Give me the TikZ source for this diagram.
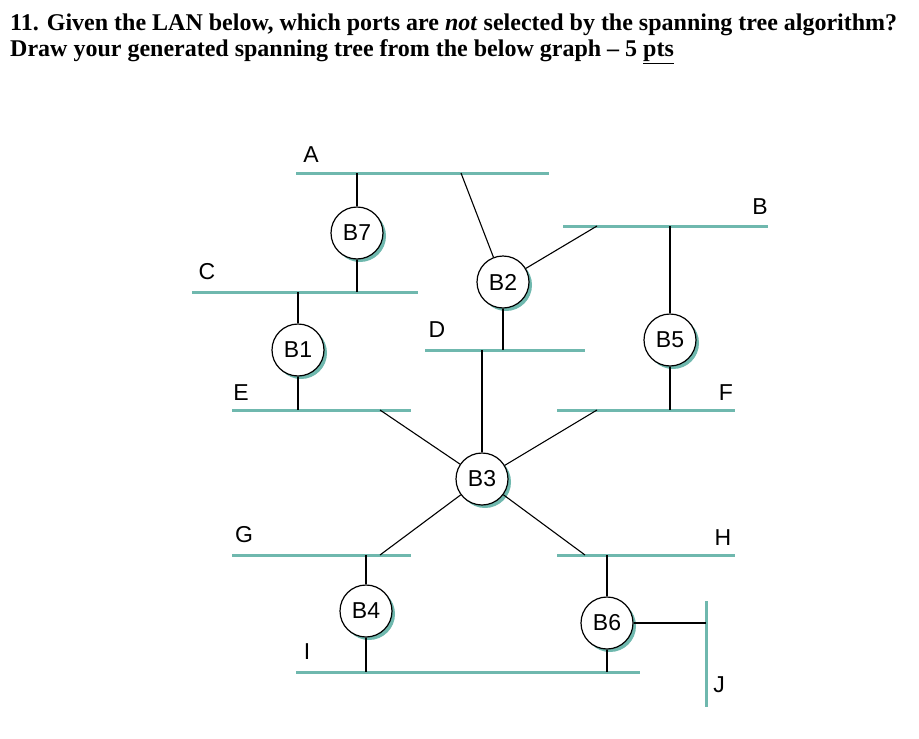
\documentclass[tikz,border=0pt]{standalone}
\usepackage{fontspec}
\setmainfont{Liberation Serif}
\newfontfamily\arialf{Liberation Sans}
\definecolor{lan}{HTML}{6FB8AE}
\begin{document}
\begin{tikzpicture}[x=1pt,y=-1pt,
  lanline/.style={draw=lan,line width=3pt},
  conn/.style={draw=black,line width=1.1pt},
  br/.style={circle,draw,line width=1.2pt,fill=white,minimum size=52pt,inner sep=0pt,font=\arialf\fontsize{23}{23}\selectfont},
  lbl/.style={font=\arialf\fontsize{23}{23}\selectfont},
  shad/.style={circle,fill=lan,minimum size=52pt,inner sep=0pt},
  ttl/.style={anchor=west,font=\fontsize{24}{27}\selectfont\bfseries,inner sep=0pt}]
\useasboundingbox (0,0) rectangle (919,739);
\node[ttl] (t1) at (10,25) {11. Given the LAN below, which ports are \textit{not} selected by the spanning tree algorithm?};
\node[ttl] (t2) at (10,52) {Draw your generated spanning tree from the below graph -- 5 \underline{pts}};
% LAN segments
\coordinate (A1) at (296,173); \coordinate (A2) at (549,173);
\coordinate (C1) at (192,292); \coordinate (C2) at (418,292);
\coordinate (B1l) at (563,226); \coordinate (B2l) at (768,226);
\coordinate (D1) at (425,350); \coordinate (D2) at (585,350);
\coordinate (E1) at (232,410); \coordinate (E2) at (411,410);
\coordinate (F1) at (557,410); \coordinate (F2) at (735,410);
\coordinate (G1) at (232,555); \coordinate (G2) at (411,555);
\coordinate (H1) at (557,555); \coordinate (H2) at (735,555);
\coordinate (I1) at (296,672); \coordinate (I2) at (640,672);
\coordinate (J1) at (706,601); \coordinate (J2) at (706,707);
\foreach \a/\b in {A1/A2,C1/C2,B1l/B2l,D1/D2,E1/E2,F1/F2,G1/G2,H1/H2,I1/I2,J1/J2}
  \draw[lanline] (\a) -- (\b);
\node[lbl] (la) at (311,155) {A};
\node[lbl] (lb) at (760,207) {B};
\node[lbl] (lc) at (207,272) {C};
\node[lbl] (ld) at (437,330) {D};
\node[lbl] (le) at (241,393) {E};
\node[lbl] (lf) at (726,393) {F};
\node[lbl] (lg) at (244,535) {G};
\node[lbl] (lh) at (723,538) {H};
\node[lbl] (li) at (307,652) {I};
\node[lbl] (lj) at (719,685) {J};
% attachment points
\coordinate (a7) at (357,173); \coordinate (c7) at (357,292);
\coordinate (a2) at (461,173); \coordinate (b2) at (597,226); \coordinate (d2) at (503,350);
\coordinate (b5) at (670,226); \coordinate (f5) at (670,410);
\coordinate (c1) at (298,292); \coordinate (e1) at (298,410);
\coordinate (d3) at (482,350); \coordinate (e3) at (380,410); \coordinate (f3) at (597,410);
\coordinate (g3) at (380,555); \coordinate (h3) at (585,555);
\coordinate (g4) at (366,555); \coordinate (i4) at (366,672);
\coordinate (h6) at (607,555); \coordinate (i6) at (607,672); \coordinate (j6) at (706,623);
% shadows
\foreach \p in {(360,236),(506,285),(673,343),(301,353),(485,482),(369,614),(610,626)}
  \node[shad] at \p {};
\node[br] (B7) at (357,233) {B7};
\node[br] (B2) at (503,282) {B2};
\node[br] (B5) at (670,340) {B5};
\node[br] (B1) at (298,350) {B1};
\node[br] (B3) at (482,479) {B3};
\node[br] (B4) at (366,611) {B4};
\node[br] (B6) at (607,623) {B6};
\draw[conn] (a7) -- (B7) -- (c7);
\draw[conn] (a2) -- (B2); \draw[conn] (B2) -- (b2); \draw[conn] (B2) -- (d2);
\draw[conn] (b5) -- (B5) -- (f5);
\draw[conn] (c1) -- (B1) -- (e1);
\draw[conn] (d3) -- (B3); \draw[conn] (B3) -- (e3); \draw[conn] (B3) -- (f3);
\draw[conn] (B3) -- (g3); \draw[conn] (B3) -- (h3);
\draw[conn] (g4) -- (B4) -- (i4);
\draw[conn] (h6) -- (B6) -- (i6); \draw[conn] (B6) -- (j6);
\end{tikzpicture}
\end{document}
